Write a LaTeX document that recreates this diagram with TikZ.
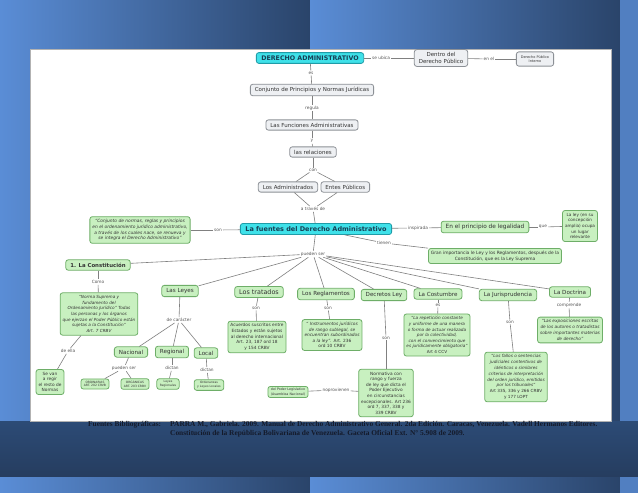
\documentclass[tikz,border=0pt]{standalone}
\usepackage{fontspec}
\setmainfont{DejaVu Sans}
\newfontfamily\footfont{Liberation Serif}
\usetikzlibrary{positioning}

\definecolor{cmapgreen}{HTML}{C8F0C0}
\definecolor{cmapgreenline}{HTML}{6EAE68}
\definecolor{cmapgray}{HTML}{EEF0F3}
\definecolor{cmapgrayline}{HTML}{8C9096}
\definecolor{cmapcyan}{HTML}{3FE1E9}
\definecolor{cmapcyanline}{HTML}{1F9CA8}
\definecolor{cmapcyantext}{HTML}{163F55}
\definecolor{linkgray}{HTML}{555555}
\definecolor{linegray}{HTML}{808080}
\definecolor{slidelight}{HTML}{5A8DD6}
\definecolor{slidedark}{HTML}{2A446A}
\definecolor{slidenavy}{HTML}{2C4B76}
\definecolor{footink}{HTML}{141A2A}

\tikzset{
  box/.style={draw, rounded corners=2.5pt, line width=0.8pt, align=center, inner sep=2pt, text=black!80},
  graybox/.style={box, draw=cmapgrayline, fill=cmapgray, font=\fontsize{5.5}{6.6}\selectfont, inner xsep=4.5pt, inner ysep=3pt},
  greenbox/.style={box, draw=cmapgreenline, fill=cmapgreen, font=\fontsize{5.6}{6.6}\selectfont, inner xsep=4.5pt, inner ysep=3pt},
  descbox/.style={box, draw=cmapgreenline, fill=cmapgreen, font=\fontsize{4.3}{5.6}\selectfont, inner sep=2.5pt},
  smallbox/.style={box, draw=cmapgreenline, fill=cmapgreen, font=\fontsize{3}{3.8}\selectfont, inner xsep=3pt, inner ysep=2pt},
  cyanbox/.style={box, draw=cmapcyanline, fill=cmapcyan, text=cmapcyantext, font=\bfseries\fontsize{6.3}{7.3}\selectfont, inner xsep=5pt, inner ysep=3pt},
  link/.style={font=\fontsize{4.3}{5.2}\selectfont, text=linkgray, inner sep=1pt},
  conn/.style={draw=linegray, line width=0.6pt},
  foot/.style={font=\footfont\bfseries\fontsize{7.4}{9}\selectfont, text=footink, inner sep=0pt}
}

\begin{document}
\begin{tikzpicture}[x=1pt, y=-1pt]
  \useasboundingbox (0,0) rectangle (638,493);
  \fill[slidenavy] (0,0) rectangle (638,493);
  \shade[left color=slidelight, right color=slidedark] (0,0) rectangle (310,421);
  \shade[left color=slidelight, right color=slidedark] (310,0) rectangle (620,421);
  \shade[left color=slidelight, right color=slidedark] (0,476) rectangle (310,493);
  \shade[left color=slidelight, right color=slidedark] (310,476) rectangle (620,493);
  \fill[slidelight!90!black] (620,0) rectangle (638,421);
  \fill[slidelight!90!black] (620,476) rectangle (638,493);
  \shade[top color=slidenavy, bottom color=slidedark!90!black] (0,421) rectangle (638,476);
  \filldraw[fill=white, draw=gray!60] (30,49) rectangle (611,421);

  \node[cyanbox] (da) at (310,58) {DERECHO ADMINISTRATIVO};
  \node[link] (ubica) at (381,58) {se ubica};
  \node[graybox] (dentro) at (441,58) {Dentro del\\Derecho Público};
  \node[link] (enel) at (489,59) {en el};
  \node[graybox, font=\fontsize{3.5}{4.4}\selectfont, inner ysep=3.5pt] (interno) at (535,59) {Derecho Público\\Interno};
  \node[link] (es) at (311,73) {es};
  \node[graybox] (cpnj) at (312,90) {Conjunto de Principios y Normas Jurídicas};
  \node[link] (regula) at (312,108) {regula};
  \node[graybox] (funciones) at (312,125) {Las Funciones Administrativas};
  \node[link] (y) at (312,141) {y};
  \node[graybox] (rel) at (313,152) {las relaciones};
  \node[link] (con) at (313,170) {con};
  \node[graybox] (adm) at (288,187) {Los Administrados};
  \node[graybox, right=2.5pt of adm] (entes) {Entes Públicos};
  \node[link] (atraves) at (313,209) {a través de};
  \node[cyanbox, font=\bfseries\fontsize{6.5}{7.5}\selectfont] (fuentes) at (316,229) {La fuentes del Derecho Administrativo};
  \node[link] (son) at (218,230) {son};
  \node[descbox, font=\itshape\fontsize{4.4}{5.8}\selectfont] (concepto) at (140,230) {“Conjunto de normas, reglas y principios\\en el ordenamiento jurídico administrativo,\\a través de los cuales nace, se renueva y\\se integra el Derecho Administrativo”};
  \node[link] (inspirada) at (418,228) {inspirada};
  \node[greenbox, font=\fontsize{5.8}{6.8}\selectfont] (legal) at (485,227) {En el principio de legalidad};
  \node[link] (que) at (543,227) {que};
  \node[descbox, font=\fontsize{4.2}{5.7}\selectfont] (ley) at (580,226) {La ley (en su\\concepción\\amplia) ocupa\\un lugar\\relevante};
  \node[link] (tienen) at (384,243) {tienen};
  \node[descbox, font=\fontsize{4.4}{5.7}\selectfont] (gran) at (495,256) {Gran importancia le Ley y los Reglamentos, después de la\\Constitución, que es la Ley Suprema};
  \node[link] (pueden) at (313,254) {pueden ser};

  \node[greenbox, font=\bfseries\fontsize{5.4}{6.4}\selectfont] (const) at (98,265) {1. La Constitución};
  \node[link] (como) at (98,282) {Como};
  \node[descbox, font=\itshape\fontsize{4.2}{5.7}\selectfont] (constdesc) at (99,314) {“Norma Suprema y\\fundamento del\\Ordenamiento Jurídico” Todas\\las personas y los órganos\\que ejerzan el Poder Público están\\sujetas a la Constitución”\\Art. 7 CRBV};
  \node[link] (deella) at (68,351) {de ella};
  \node[descbox] (sevan) at (50,382) {Se van\\a regir\\el resto de\\Normas};

  \node[greenbox] (leyes) at (180,291) {Las Leyes};
  \node[link] (caracter) at (179,320) {de carácter};
  \node[greenbox] (nacional) at (131,352) {Nacional};
  \node[greenbox] (regional) at (172,352) {Regional};
  \node[greenbox] (local) at (206,353) {Local};
  \node[link] (pueden2) at (124,368) {pueden ser};
  \node[smallbox] (ordin) at (95,384) {ORDINARIAS\\ART. 202 CRVB};
  \node[smallbox] (organ) at (135,384) {ORGÁNICAS\\ART. 203 CRBV};
  \node[link] (dictan1) at (172,368) {dictan};
  \node[smallbox] (leyesreg) at (168,384) {Leyes\\Regionales};
  \node[link] (dictan2) at (207,370) {dictan};
  \node[smallbox] (ordenanzas) at (209,385) {Ordenanzas\\y Leyes Locales};

  \node[greenbox, font=\fontsize{6.4}{7.4}\selectfont] (tratados) at (259,292) {Los tratados};
  \node[link] (son1) at (256,308) {son};
  \node[descbox] (tratdesc) at (257,337) {Acuerdos suscritos entre\\Estados y están sujetos\\al derecho internacional\\Art. 23, 187 ord 18\\y 154 CRBV};

  \node[greenbox] (regla) at (326,294) {Los Reglamentos};
  \node[link] (son2) at (328,308) {son};
  \node[descbox] (regladesc) at (332,335) {\textit{“ Instrumentos jurídicos}\\\textit{de rango sublegal, se}\\\textit{encuentran subordinados}\\\textit{a la ley”.} Art. 236\\ord 10 CRBV};

  \node[greenbox] (decretos) at (384,295) {Decretos Ley};
  \node[link] (son3) at (386,338) {son};
  \node[descbox] (decdesc) at (386,393) {Normativa con\\rango y fuerza\\de ley que dicta el\\Poder Ejecutivo\\en circunstancias\\excepcionales. Art 236\\ord 7, 337, 338 y\\339 CRBV};
  \node[link] (noprov) at (336,390) {no\\provienen};
  \node[smallbox, font=\fontsize{3.3}{4.2}\selectfont] (legis) at (288,392) {del Poder Legislativo\\(Asamblea Nacional)};

  \node[greenbox] (costumbre) at (438,294) {La Costumbre};
  \node[link] (es2) at (438,305) {es};
  \node[descbox, font=\itshape\fontsize{4.2}{5.6}\selectfont] (costdesc) at (437,335) {“La repetición constante\\y uniforme de una manera\\o forma de actuar realizada\\por la colectividad,\\con el convencimiento que\\es jurídicamente obligatoria”\\\textup{Art 4 CCV}};

  \node[greenbox] (juris) at (508,295) {La Jurisprudencia};
  \node[link] (son4) at (510,322) {son};
  \node[descbox, font=\itshape\fontsize{4.2}{5.8}\selectfont] (jurisdesc) at (516,377) {“Los fallos o sentencias\\judiciales contentivos de\\idénticos o similares\\criterios de interpretación\\del orden jurídico, emitidos\\por los tribunales”\\\textup{Art 335, 336 y 266 CRBV}\\\textup{y 177 LOPT}};

  \node[greenbox] (doctrina) at (570,292) {La Doctrina};
  \node[link] (comprende) at (569,305) {comprende};
  \node[descbox, font=\itshape\fontsize{4.3}{5.8}\selectfont] (doctdesc) at (570,330) {“Las exposiciones escritas\\de los autores o tratadistas\\sobre importantes materias\\de derecho”};

  \path[conn] (da) edge (ubica) (ubica) edge (dentro) (dentro) edge (enel) (enel) edge (interno)
    (da) edge (es) (es) edge (cpnj) (cpnj) edge (regula) (regula) edge (funciones)
    (funciones) edge (y) (y) edge (rel) (rel) edge (con)
    (con) edge (adm) edge (entes)
    (adm) edge (atraves) (entes) edge (atraves) (atraves) edge (fuentes)
    (fuentes) edge (son) (son) edge (concepto)
    (fuentes) edge (inspirada) (inspirada) edge (legal) (legal) edge (que) (que) edge (ley)
    (fuentes) edge (tienen) (tienen) edge (gran)
    (fuentes) edge (pueden);
  \path[conn] (pueden) edge (const) edge (leyes) edge (tratados) edge (regla)
    edge (decretos) edge (costumbre) edge (juris) edge (doctrina);
  \path[conn] (const) edge (como) (como) edge (constdesc) (constdesc) edge (deella) (deella) edge (sevan)
    (leyes) edge (caracter) (caracter) edge (nacional) edge (regional) edge (local)
    (nacional) edge (pueden2) (pueden2) edge (ordin) edge (organ)
    (regional) edge (dictan1) (dictan1) edge (leyesreg)
    (local) edge (dictan2) (dictan2) edge (ordenanzas)
    (tratados) edge (son1) (son1) edge (tratdesc)
    (regla) edge (son2) (son2) edge (regladesc)
    (decretos) edge (son3) (son3) edge (decdesc)
    (decdesc) edge (noprov) (noprov) edge (legis)
    (costumbre) edge (es2) (es2) edge (costdesc)
    (juris) edge (son4) (son4) edge (jurisdesc)
    (doctrina) edge (comprende) (comprende) edge (doctdesc);

  \node[foot, anchor=west] (fb) at (88,425) {Fuentes Bibliográficas:};
  \node[foot, anchor=north west, align=left] (refs) at (170,421.5) {PARRA M., Gabriela. 2009. Manual de Derecho Administrativo General. 2da Edición. Caracas, Venezuela. Vadell Hermanos Editores.\\Constitución de la República Bolivariana de Venezuela. Gaceta Oficial Ext. N° 5.908 de 2009.};
\end{tikzpicture}
\end{document}
